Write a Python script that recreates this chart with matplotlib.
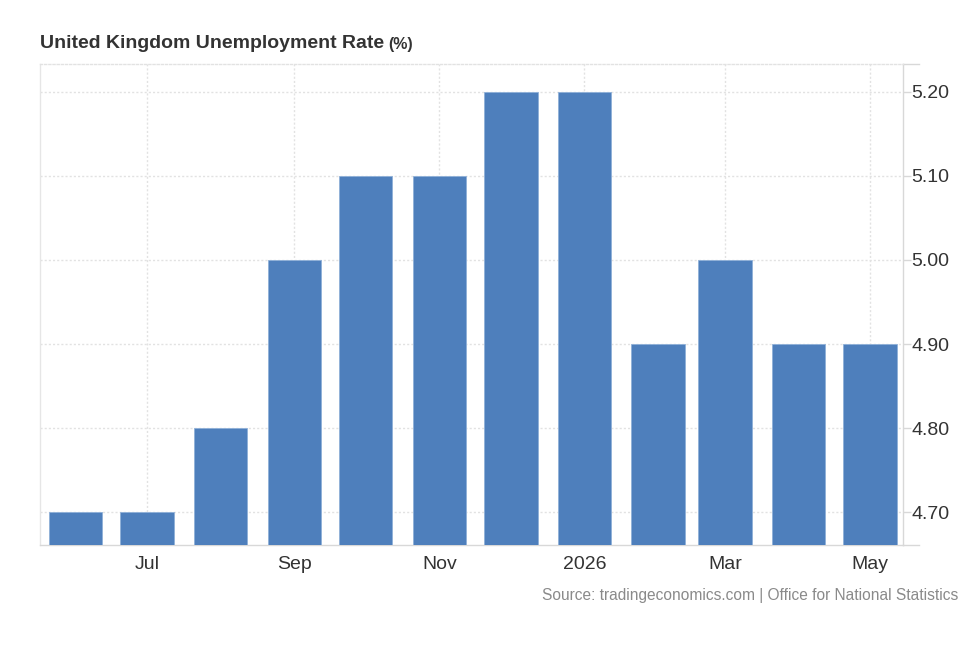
import pandas as pd
import matplotlib
matplotlib.use("Agg")
import matplotlib.pyplot as plt
import matplotlib.dates as mdates

# -------------------------------
# Data
# -------------------------------
months = ["2025-06-01", "2025-07-01", "2025-08-01", "2025-09-01",
          "2025-10-01", "2025-11-01", "2025-12-01", "2026-01-01",
          "2026-02-01", "2026-03-01", "2026-04-01", "2026-05-01"]
rate = [4.7, 4.7, 4.8, 5.0, 5.1, 5.1, 5.2, 5.2, 4.9, 5.0, 4.9, 4.9]

tick_dates = ["2025-07-01", "2025-09-01", "2025-11-01",
              "2026-01-01", "2026-03-01", "2026-05-01"]
tick_labels = ["Jul", "Sep", "Nov", "2026", "Mar", "May"]
y_ticks = [4.70, 4.80, 4.90, 5.00, 5.10, 5.20]

x = mdates.date2num(pd.to_datetime(months))
xt = mdates.date2num(pd.to_datetime(tick_dates))

plt.rcParams["font.family"] = ["Liberation Sans", "DejaVu Sans"]

# -------------------------------
# Figure
# -------------------------------
fig = plt.figure(figsize=(9.75, 6.67), dpi=100)
ax = fig.add_axes([40 / 975, 1 - 545 / 667, 863 / 975, 481 / 667])

grid_c = "#e2e2e2"
ax.bar(x, [v - 4.661 for v in rate], bottom=4.661, width=22.5,
       color="#4e7fbc", edgecolor="#8fb0d8", linewidth=0.6, zorder=3)

ax.set_xlim(x[0] - 14.9, x[-1] + 13.9)
ax.set_ylim(4.661, 5.233)

ax.set_xticks(xt)
ax.set_xticklabels(tick_labels)
ax.set_yticks(y_ticks)
ax.set_yticklabels([f"{v:.2f}" for v in y_ticks])
ax.yaxis.tick_right()

ax.tick_params(axis="x", length=0, pad=8, labelsize=14, labelcolor="#333333")
ax.tick_params(axis="y", length=6, width=1, color="#d8d8d8", pad=0,
               labelsize=14, labelcolor="#333333")

ax.grid(True, linestyle=(0, (1.5, 1.5)), color=grid_c, linewidth=1, zorder=0)
ax.set_axisbelow(True)

ax.spines["left"].set_color("#e6e6e6")
ax.spines["top"].set_color(grid_c)
ax.spines["top"].set_linestyle((0, (1.5, 1.5)))
ax.spines["right"].set_color("#d8d8d8")
ax.spines["bottom"].set_color("#d8d8d8")
for s in ax.spines.values():
    s.set_linewidth(1)

# extend top and bottom borders past the right axis
ax.plot([1, 1.0185], [0, 0], transform=ax.transAxes, color="#d8d8d8",
        linewidth=1, clip_on=False)
ax.plot([1, 1.0185], [1, 1], transform=ax.transAxes, color="#d8d8d8",
        linewidth=1, clip_on=False)

# -------------------------------
# Title and source
# -------------------------------
t = fig.text(40 / 975, 1 - 52 / 667, "United Kingdom Unemployment Rate",
             fontsize=14, fontweight="bold", color="#333333", va="bottom")
fig.canvas.draw()
ax.annotate("(%)", xy=(1, 0), xycoords=t, xytext=(3, 0),
            textcoords="offset points", fontsize=11.5, fontweight="bold",
            color="#333333", va="bottom")

fig.text(958 / 975, 1 - 600 / 667,
         "Source: tradingeconomics.com | Office for National Statistics",
         fontsize=11.2, color="#8a8a8a", ha="right", va="baseline")

fig.savefig("out.png", dpi=100)
